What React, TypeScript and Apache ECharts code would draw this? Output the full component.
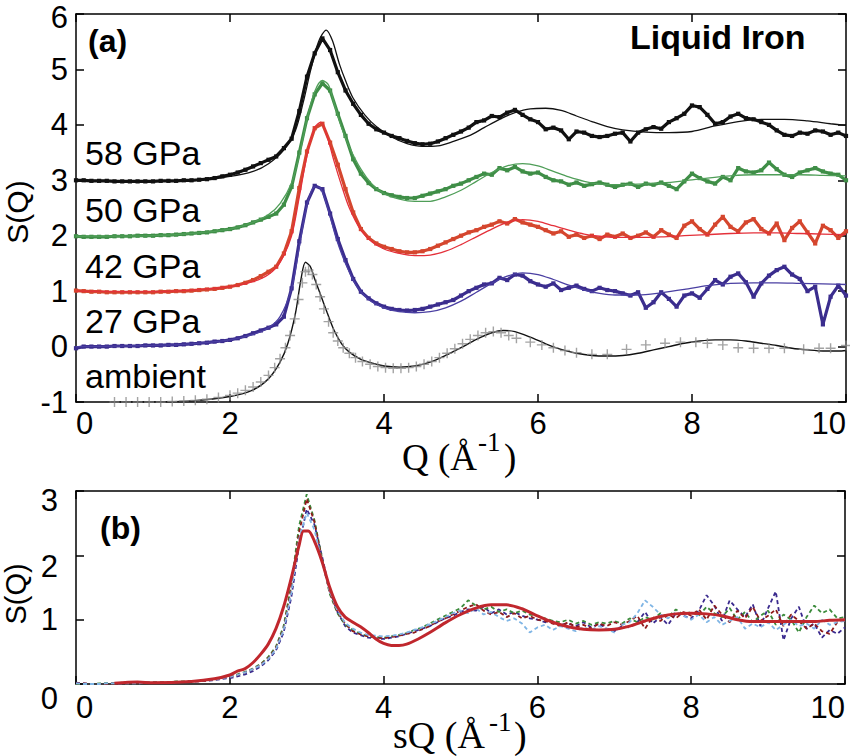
import React, { useEffect, useRef } from "react";
import * as echarts from "echarts";

// Q grid (Å^-1) used by the measured data sets
const Q_GRID: number[] = Array.from({ length: 101 }, (_, i) => i / 10);

// ---- Panel (a): measured S(Q) with vertical offsets (values as plotted) ----
const DATA_58 = [
  3.0, 3.0, 2.99, 2.99, 2.99, 2.98, 2.98, 2.98, 2.98, 2.98,
  2.98, 2.99, 2.99, 2.99, 3.0, 3.0, 3.01, 3.02, 3.04, 3.07,
  3.1, 3.14, 3.19, 3.25, 3.31, 3.37, 3.43, 3.58, 3.75, 4.25,
  4.87, 5.29, 5.56, 5.35, 4.95, 4.62, 4.38, 4.18, 4.02, 3.92,
  3.86, 3.8, 3.76, 3.71, 3.67, 3.65, 3.66, 3.7, 3.76, 3.82,
  3.88, 3.95, 4.05, 4.08, 4.16, 4.14, 4.22, 4.27, 4.18, 4.1,
  4.05, 3.92, 3.95, 3.9, 3.74, 3.88, 3.86, 3.8, 3.78, 3.8,
  3.84, 3.86, 3.7, 3.86, 3.92, 3.96, 3.93, 4.05, 4.12, 4.2,
  4.35, 4.32, 4.18, 4.02, 4.05, 4.15, 4.2, 4.12, 4.1, 4.05,
  4.0, 3.9, 3.82, 3.8, 3.86, 3.84, 3.9, 3.88, 3.82, 3.86,
  3.8,
];
const DATA_50 = [
  1.99, 1.98, 1.98, 1.98, 1.98, 1.99, 1.99, 1.99, 2.0, 2.0,
  2.0, 2.01, 2.01, 2.02, 2.03, 2.04, 2.05, 2.06, 2.08, 2.1,
  2.12, 2.15, 2.19, 2.24, 2.29, 2.34, 2.4, 2.56, 2.88, 3.5,
  4.12, 4.55, 4.75, 4.62, 4.2, 3.8, 3.38, 3.12, 2.95, 2.84,
  2.77, 2.73, 2.7, 2.68, 2.68, 2.72, 2.76, 2.8, 2.84, 2.9,
  2.94, 3.0, 3.06, 3.12, 3.1, 3.22, 3.18, 3.24, 3.16, 3.12,
  3.14, 3.06, 3.0, 2.98, 2.92, 2.96, 2.9, 2.93, 2.96, 2.92,
  2.88, 2.92, 2.94, 2.88, 2.94, 2.92, 2.96, 2.9, 2.84, 2.98,
  3.12, 3.04, 2.98, 2.94, 3.06, 3.0, 3.22, 3.16, 3.14, 3.18,
  3.32, 3.2, 3.1, 3.06, 3.14, 3.18, 3.22, 3.16, 3.12, 3.1,
  3.0,
];
const DATA_42 = [
  1.01, 1.0, 0.99, 0.99, 0.98, 0.98, 0.98, 0.98, 0.98, 0.98,
  0.98, 0.99, 0.99, 1.0, 1.0, 1.01, 1.02, 1.03, 1.04, 1.06,
  1.08, 1.11, 1.15, 1.2, 1.27, 1.35, 1.44, 1.68, 2.08, 2.86,
  3.52, 3.94, 4.02, 3.68, 3.28, 2.84, 2.42, 2.12, 1.96, 1.86,
  1.8, 1.76, 1.72, 1.7, 1.7, 1.72, 1.76, 1.82, 1.88, 1.94,
  2.0, 2.06, 2.1, 2.16, 2.2, 2.26, 2.22, 2.3, 2.24, 2.2,
  2.16, 2.1, 2.04, 2.08, 1.98, 2.02, 1.96, 2.0, 1.94, 2.02,
  1.98, 2.04, 1.96, 2.0, 2.06, 1.98, 2.1, 2.02, 1.96, 2.18,
  2.26, 2.12, 2.02, 2.2, 2.34, 2.16, 2.08, 2.24, 2.3, 2.12,
  2.04, 2.22, 1.92, 2.14, 2.26, 2.06, 1.86, 2.18, 2.1, 1.96,
  2.08,
];
const DATA_27 = [
  -0.03, 0.0, 0.0, 0.0, 0.0, 0.01, 0.01, 0.01, 0.01, 0.02,
  0.02, 0.02, 0.03, 0.03, 0.04, 0.05, 0.06, 0.07, 0.09, 0.1,
  0.12, 0.15, 0.19, 0.24, 0.29, 0.34, 0.4, 0.54, 1.05, 1.9,
  2.6, 2.9, 2.84, 2.4, 1.94, 1.56, 1.22, 0.99, 0.87, 0.78,
  0.72, 0.68, 0.66, 0.65, 0.66, 0.68, 0.72, 0.76, 0.8, 0.84,
  0.92, 1.0, 1.06, 1.12, 1.14, 1.24, 1.2, 1.3, 1.28, 1.18,
  1.12, 1.08, 1.14, 1.02, 1.06, 1.1, 1.04, 1.0, 1.06, 1.02,
  1.0, 0.96, 0.92, 0.98, 0.7, 0.8, 0.98, 0.86, 0.72, 0.92,
  0.96, 0.88, 1.04, 1.2, 1.12, 1.26, 1.32, 1.16, 0.9, 1.14,
  1.28, 1.38, 1.44, 1.3, 1.22, 1.0, 1.08, 0.4, 0.9, 1.1,
  0.92,
];
// ambient measurement (crosses), [Q, S(Q)-1]
const AMBIENT_PTS: [number, number][] = [
  [0.5, -1.0], [0.65, -1.0], [0.8, -1.0], [0.95, -1.0], [1.1, -1.0], [1.25, -0.99],
  [1.4, -0.98], [1.55, -0.97], [1.7, -0.95], [1.85, -0.92], [2.0, -0.88], [2.1, -0.84],
  [2.2, -0.79], [2.3, -0.73], [2.4, -0.64], [2.5, -0.52], [2.58, -0.38], [2.65, -0.22],
  [2.72, -0.02], [2.78, 0.2], [2.84, 0.5], [2.89, 0.85], [2.94, 1.15], [2.98, 1.35],
  [3.02, 1.38], [3.07, 1.3], [3.12, 1.12], [3.17, 0.9], [3.22, 0.68], [3.28, 0.45],
  [3.34, 0.25], [3.4, 0.1], [3.47, -0.02], [3.55, -0.12], [3.63, -0.2], [3.72, -0.27],
  [3.82, -0.32], [3.92, -0.36], [4.02, -0.38], [4.12, -0.39], [4.22, -0.39], [4.32, -0.38],
  [4.42, -0.36], [4.52, -0.32], [4.62, -0.27], [4.72, -0.2], [4.82, -0.12], [4.92, -0.04],
  [5.02, 0.05], [5.12, 0.13], [5.22, 0.2], [5.32, 0.25], [5.42, 0.27], [5.52, 0.25],
  [5.62, 0.2], [5.72, 0.15], [5.9, 0.08], [6.05, 0.03], [6.2, -0.02], [6.35, -0.07],
  [6.5, -0.11], [6.7, -0.14], [6.9, -0.14], [7.15, -0.05], [7.4, 0.03], [7.65, 0.06],
  [7.85, 0.08], [8.05, 0.08], [8.2, 0.06], [8.4, 0.03], [8.6, -0.02], [8.8, -0.03],
  [9.0, -0.03], [9.2, -0.03], [9.45, -0.05], [9.65, -0.03], [9.8, -0.03], [10.0, 0.02],
];

// ---- Panel (a): model curves ----
const FIT_58: [number, number][] = [
  [0, 3.0], [1, 2.99], [1.5, 3.0], [2, 3.07], [2.3, 3.16], [2.5, 3.3], [2.7, 3.55],
  [2.85, 3.9], [2.95, 4.4], [3.05, 5.0], [3.15, 5.5], [3.25, 5.71], [3.33, 5.52],
  [3.42, 5.1], [3.5, 4.8], [3.6, 4.48], [3.75, 4.18], [3.9, 3.97], [4.1, 3.78],
  [4.3, 3.66], [4.5, 3.61], [4.7, 3.62], [4.9, 3.7], [5.1, 3.8], [5.3, 3.95],
  [5.5, 4.1], [5.7, 4.22], [5.9, 4.29], [6.1, 4.3], [6.3, 4.26], [6.5, 4.16],
  [6.7, 4.06], [6.9, 3.97], [7.1, 3.91], [7.4, 3.87], [7.7, 3.86], [8.0, 3.88],
  [8.3, 3.98], [8.6, 4.06], [8.9, 4.1], [9.2, 4.1], [9.5, 4.07], [9.8, 4.02], [10, 3.99],
];
const FIT_50: [number, number][] = [
  [0, 1.99], [1, 2.0], [1.5, 2.04], [2, 2.12], [2.3, 2.24], [2.5, 2.38], [2.65, 2.58],
  [2.8, 2.95], [2.9, 3.45], [3.0, 4.1], [3.1, 4.6], [3.2, 4.8], [3.28, 4.72],
  [3.36, 4.35], [3.45, 3.95], [3.55, 3.6], [3.7, 3.2], [3.85, 2.92], [4.0, 2.76],
  [4.2, 2.66], [4.4, 2.62], [4.6, 2.62], [4.8, 2.7], [5.0, 2.82], [5.2, 2.98],
  [5.4, 3.14], [5.6, 3.26], [5.8, 3.3], [6.0, 3.26], [6.2, 3.16], [6.4, 3.06],
  [6.6, 2.98], [6.8, 2.93], [7.0, 2.92], [7.3, 2.93], [7.6, 2.95], [7.9, 2.99],
  [8.2, 3.04], [8.5, 3.08], [8.8, 3.1], [9.1, 3.1], [9.4, 3.1], [9.7, 3.09], [10, 3.08],
];
const FIT_42: [number, number][] = [
  [0, 1.0], [1, 0.99], [1.5, 1.02], [2, 1.08], [2.3, 1.17], [2.5, 1.3], [2.65, 1.52],
  [2.8, 2.0], [2.9, 2.7], [3.0, 3.45], [3.1, 3.95], [3.18, 4.05], [3.26, 3.8],
  [3.35, 3.35], [3.45, 2.9], [3.55, 2.5], [3.7, 2.1], [3.85, 1.88], [4.0, 1.76],
  [4.2, 1.68], [4.4, 1.64], [4.6, 1.65], [4.8, 1.72], [5.0, 1.84], [5.2, 1.98],
  [5.4, 2.12], [5.6, 2.24], [5.8, 2.29], [6.0, 2.26], [6.2, 2.18], [6.4, 2.1],
  [6.6, 2.03], [6.8, 1.99], [7.0, 1.97], [7.3, 1.97], [7.6, 1.98], [7.9, 2.0],
  [8.2, 2.02], [8.5, 2.04], [8.8, 2.05], [9.1, 2.05], [9.4, 2.04], [9.7, 2.03], [10, 2.02],
];
const FIT_27: [number, number][] = [
  [0, 0.0], [1, 0.02], [1.5, 0.05], [2, 0.12], [2.3, 0.22], [2.5, 0.34], [2.65, 0.54],
  [2.8, 1.05], [2.9, 1.8], [3.0, 2.55], [3.1, 2.88], [3.18, 2.85], [3.28, 2.45],
  [3.38, 1.95], [3.5, 1.5], [3.65, 1.08], [3.8, 0.85], [4.0, 0.7], [4.2, 0.63],
  [4.4, 0.61], [4.6, 0.63], [4.8, 0.7], [5.0, 0.82], [5.2, 0.98], [5.4, 1.14],
  [5.6, 1.27], [5.8, 1.33], [6.0, 1.3], [6.2, 1.21], [6.4, 1.11], [6.6, 1.02],
  [6.8, 0.96], [7.0, 0.93], [7.3, 0.93], [7.6, 0.97], [7.9, 1.03], [8.2, 1.1],
  [8.5, 1.14], [8.8, 1.15], [9.1, 1.15], [9.4, 1.14], [9.7, 1.13], [10, 1.12],
];
const FIT_AMBIENT: [number, number][] = [
  [0.45, -1.0], [1, -1.0], [1.5, -0.98], [2, -0.9], [2.3, -0.78], [2.5, -0.58],
  [2.65, -0.28], [2.75, 0.05], [2.85, 0.6], [2.92, 1.2], [2.98, 1.52], [3.04, 1.45],
  [3.1, 1.22], [3.18, 0.92], [3.26, 0.62], [3.35, 0.3], [3.45, 0.05], [3.55, -0.1],
  [3.7, -0.23], [3.85, -0.3], [4.0, -0.35], [4.2, -0.37], [4.4, -0.35], [4.6, -0.28],
  [4.8, -0.16], [5.0, -0.02], [5.2, 0.13], [5.4, 0.25], [5.55, 0.29], [5.7, 0.27],
  [5.9, 0.17], [6.1, 0.05], [6.3, -0.05], [6.5, -0.12], [6.7, -0.16], [6.9, -0.17],
  [7.1, -0.16], [7.3, -0.12], [7.5, -0.06], [7.7, 0.0], [7.9, 0.06], [8.1, 0.1],
  [8.3, 0.12], [8.5, 0.12], [8.7, 0.1], [8.9, 0.06], [9.1, 0.02], [9.3, -0.03],
  [9.5, -0.06], [9.7, -0.08], [9.9, -0.08], [10, -0.07],
];

// ---- Panel (b): scaled S(Q) ----
const B_27 = [
  0.02, 0.01, 0.0, 0.0, 0.01, 0.01, 0.01, 0.02, 0.01, 0.02,
  0.02, 0.02, 0.03, 0.03, 0.03, 0.04, 0.04, 0.05, 0.06, 0.08,
  0.09, 0.12, 0.15, 0.2, 0.27, 0.37, 0.52, 0.8, 1.35, 2.15,
  2.72, 2.48, 1.98, 1.45, 1.12, 0.9, 0.8, 0.76, 0.72, 0.71,
  0.7, 0.72, 0.74, 0.78, 0.82, 0.86, 0.9, 0.96, 1.02, 1.06,
  1.12, 1.16, 1.14, 1.2, 1.1, 1.16, 1.08, 1.12, 1.06, 1.02,
  1.0, 0.96, 0.98, 0.92, 0.94, 0.9, 0.96, 0.88, 0.94, 0.86,
  0.82, 0.9, 0.88, 0.96, 1.12, 0.94, 1.04, 0.92, 1.1, 1.06,
  1.02, 1.14, 1.38, 1.22, 0.98, 1.3, 1.16, 1.04, 1.24, 0.9,
  1.18, 1.44, 0.68, 1.02, 1.2, 0.86, 0.94, 0.72, 0.84, 0.78,
  0.88,
];
const B_50 = [
  0.0, 0.0, 0.0, 0.01, 0.01, 0.01, 0.02, 0.02, 0.02, 0.02,
  0.03, 0.03, 0.03, 0.04, 0.04, 0.05, 0.05, 0.06, 0.08, 0.1,
  0.12, 0.15, 0.19, 0.24, 0.31, 0.42, 0.58, 0.9, 1.55, 2.45,
  2.95, 2.55, 1.95, 1.4, 1.1, 0.92, 0.84, 0.78, 0.74, 0.73,
  0.72, 0.74, 0.76, 0.79, 0.84, 0.88, 0.94, 1.0, 1.06, 1.12,
  1.18, 1.3, 1.22, 1.16, 1.2, 1.12, 1.16, 1.1, 1.14, 1.08,
  1.06, 1.02, 0.98, 0.96, 1.0, 0.94, 0.98, 0.92, 0.96, 0.94,
  0.98, 0.94, 1.02, 0.96, 1.04, 1.0, 1.1, 1.04, 1.16, 1.08,
  1.12, 1.06, 1.2, 1.1, 1.04, 1.18, 1.0, 1.12, 0.96, 1.06,
  1.14, 0.92, 1.08, 1.0, 0.8, 1.04, 1.22, 1.1, 1.16, 1.02,
  1.04,
];
const B_42 = [
  0.01, 0.01, 0.0, 0.0, 0.0, 0.01, 0.01, 0.01, 0.02, 0.02,
  0.02, 0.02, 0.02, 0.03, 0.03, 0.04, 0.04, 0.05, 0.07, 0.09,
  0.11, 0.14, 0.18, 0.23, 0.3, 0.4, 0.56, 0.86, 1.48, 2.35,
  2.88, 2.52, 1.92, 1.42, 1.12, 0.94, 0.82, 0.77, 0.74, 0.72,
  0.71, 0.73, 0.75, 0.78, 0.8, 0.85, 0.9, 0.97, 1.02, 1.08,
  1.14, 1.2, 1.24, 1.14, 1.08, 1.12, 1.04, 1.1, 1.02, 1.06,
  1.0, 0.98, 0.94, 0.9, 0.96, 0.88, 0.92, 0.86, 0.94, 0.9,
  0.96, 0.92, 0.98, 1.06, 0.86, 1.04, 0.98, 1.08, 1.02, 1.12,
  1.06, 1.16, 1.0, 1.22, 1.08, 0.96, 1.14, 1.02, 1.2, 0.98,
  1.06, 1.16, 0.9, 1.08, 0.98, 0.86, 0.94, 0.82, 0.78, 0.96,
  1.0,
];
const B_AMB = [
  0.01, 0.0, 0.0, 0.0, 0.01, 0.01, 0.01, 0.01, 0.01, 0.02,
  0.02, 0.02, 0.02, 0.03, 0.03, 0.04, 0.05, 0.06, 0.07, 0.09,
  0.11, 0.14, 0.18, 0.23, 0.29, 0.39, 0.54, 0.84, 1.42, 2.25,
  2.66, 2.4, 1.9, 1.44, 1.14, 0.95, 0.86, 0.8, 0.76, 0.75,
  0.74, 0.75, 0.77, 0.8, 0.84, 0.88, 0.93, 0.98, 1.04, 1.1,
  1.14, 1.1, 1.18, 1.08, 1.12, 1.04, 0.98, 1.02, 0.94, 0.8,
  0.88, 0.92, 0.84, 0.9, 0.86, 0.82, 0.88, 0.84, 0.9, 0.86,
  0.8, 0.92, 0.96, 1.1, 1.3, 1.2, 1.08, 1.02, 1.12, 1.06,
  1.0, 1.08, 0.96, 1.04, 0.92, 0.98, 1.04, 0.86, 0.94, 0.88,
  0.96, 0.84, 0.92, 1.0, 0.9, 0.94, 0.86, 1.0, 0.92, 0.96,
  0.98,
];
const B_MODEL: [number, number][] = [
  [0.5, 0.01], [0.8, 0.03], [1.0, 0.02], [1.5, 0.04], [1.8, 0.08], [2.0, 0.14],
  [2.1, 0.2], [2.2, 0.24], [2.3, 0.33], [2.4, 0.46], [2.5, 0.62], [2.6, 0.86],
  [2.7, 1.2], [2.8, 1.65], [2.9, 2.15], [2.96, 2.38], [3.02, 2.38], [3.1, 2.22],
  [3.2, 1.9], [3.3, 1.5], [3.4, 1.2], [3.5, 1.04], [3.6, 0.96], [3.7, 0.89],
  [3.8, 0.8], [3.9, 0.7], [4.0, 0.63], [4.1, 0.6], [4.2, 0.6], [4.3, 0.62],
  [4.45, 0.7], [4.6, 0.8], [4.8, 0.95], [5.0, 1.08], [5.2, 1.18], [5.4, 1.23],
  [5.6, 1.23], [5.8, 1.17], [6.0, 1.06], [6.2, 0.96], [6.4, 0.89], [6.6, 0.85],
  [6.8, 0.84], [7.0, 0.85], [7.2, 0.9], [7.4, 0.98], [7.6, 1.05], [7.8, 1.09],
  [8.0, 1.1], [8.2, 1.09], [8.4, 1.06], [8.6, 1.0], [8.8, 0.97], [9.0, 0.97],
  [9.3, 0.97], [9.6, 0.97], [9.8, 0.99], [10, 1.0],
];

const TOP_Y_TICKS = { min: -1, max: 6, interval: 1 };
const BOT_Y_TICKS = { min: 0, max: 3, interval: 1 };
const X_TICKS = { min: 0, max: 10, interval: 2 };

const PRESSURE_LABELS = ["58 GPa", "50 GPa", "42 GPa", "27 GPa", "ambient"];

const SANS = "'Liberation Sans', Arial, Helvetica, sans-serif";
const SERIF = "'Liberation Serif', 'Times New Roman', serif";

const C_BLACK = "#111111";
const C_GREEN = "#3f8e47";
const C_GREEN_FIT = "#4f9e58";
const C_RED = "#d5462e";
const C_RED_FIT = "#e4303a";
const C_BLUE = "#3b2d8e";
const C_BLUE_FIT = "#4a3fa2";
const C_GRAY = "#8c8c8c";
const B_COLORS = ["#3a2a8e", "#3b8b3b", "#8e1b1b", "#7fb5e5"];
const C_MODEL = "#c0272d";

const PLUS = "path://M4.3,0H5.7V4.3H10V5.7H5.7V10H4.3V5.7H0V4.3H4.3Z";

const pairs = (ys: number[]) => ys.map((y, i) => [Q_GRID[i], y]);

function axisCommon(extra: any) {
  return {
    type: "value",
    axisLine: { show: true, onZero: false, lineStyle: { color: "#000", width: 1.5 } },
    axisTick: { show: true, inside: true, length: 8, lineStyle: { color: "#000", width: 1.5 } },
    splitLine: { show: false },
    ...extra,
  };
}

export default function App() {
  const ref = useRef<HTMLDivElement>(null);
  useEffect(() => {
    if (!ref.current) return;
    const chart = echarts.init(ref.current, undefined, { renderer: "svg" });

    const xLabel = {
      show: true,
      fontSize: 31,
      fontFamily: SANS,
      color: "#000",
      alignMinLabel: "left",
      alignMaxLabel: "right",
    };
    const tok = { fontSize: 31, fontFamily: SANS, color: "#000" };

    const dataSeries = (ys: number[], color: string) => ({
      type: "line",
      xAxisIndex: 0,
      yAxisIndex: 0,
      data: pairs(ys),
      showSymbol: true,
      symbol: "rect",
      symbolSize: 4.2,
      itemStyle: { color },
      lineStyle: { color, width: 3.2 },
      z: 2,
      silent: true,
    });
    const fitSeries = (pts: [number, number][], color: string) => ({
      type: "line",
      xAxisIndex: 0,
      yAxisIndex: 0,
      data: pts,
      showSymbol: false,
      smooth: 0.3,
      lineStyle: { color, width: 1.3 },
      z: 3,
      silent: true,
    });
    const bSeries = (ys: number[], color: string) => ({
      type: "line",
      xAxisIndex: 2,
      yAxisIndex: 2,
      data: pairs(ys),
      showSymbol: false,
      lineStyle: { color, width: 1.8, type: [4, 3] },
      z: 2,
      silent: true,
    });

    const labelYs = [153, 210, 266, 321, 376];

    chart.setOption({
      animation: false,
      backgroundColor: "#ffffff",
      grid: [
        { left: 76, top: 14, width: 770, height: 388 },
        { left: 76, top: 491, width: 769, height: 193 },
      ],
      xAxis: [
        axisCommon({ gridIndex: 0, position: "bottom", ...X_TICKS, axisLabel: { ...xLabel, margin: 6 } }),
        axisCommon({ gridIndex: 0, position: "top", ...X_TICKS, axisLabel: { show: false } }),
        axisCommon({ gridIndex: 1, position: "bottom", ...X_TICKS, axisLabel: { ...xLabel, margin: 8 } }),
        axisCommon({ gridIndex: 1, position: "top", ...X_TICKS, axisLabel: { show: false } }),
      ],
      yAxis: [
        axisCommon({
          gridIndex: 0,
          position: "left",
          ...TOP_Y_TICKS,
          axisLabel: {
            show: true,
            ...tok,
            margin: 8,
            formatter: (v: number) => (v === 6 ? `{top|${v}}` : `{n|${v}}`),
            rich: { top: { ...tok, padding: [6, 0, 0, 0] }, n: { ...tok } },
          },
        }),
        axisCommon({ gridIndex: 0, position: "right", ...TOP_Y_TICKS, axisLabel: { show: false } }),
        axisCommon({
          gridIndex: 1,
          position: "left",
          ...BOT_Y_TICKS,
          axisLabel: {
            show: true,
            ...tok,
            margin: 18,
            formatter: (v: number) => `{t${v}|${v}}`,
            rich: {
              t0: { ...tok, padding: [28, 0, 0, 0] },
              t1: { ...tok },
              t2: { ...tok, padding: [22, 0, 0, 0] },
              t3: { ...tok, padding: [18, 0, 0, 0] },
            },
          },
        }),
        axisCommon({ gridIndex: 1, position: "right", ...BOT_Y_TICKS, axisLabel: { show: false } }),
      ],
      series: [
        dataSeries(DATA_58, C_BLACK),
        dataSeries(DATA_50, C_GREEN),
        dataSeries(DATA_42, C_RED),
        dataSeries(DATA_27, C_BLUE),
        {
          type: "line",
          xAxisIndex: 0,
          yAxisIndex: 0,
          data: FIT_AMBIENT,
          showSymbol: false,
          smooth: 0.3,
          lineStyle: { color: C_BLACK, width: 1.4 },
          z: 2,
          silent: true,
        },
        {
          type: "scatter",
          xAxisIndex: 0,
          yAxisIndex: 0,
          data: AMBIENT_PTS,
          symbol: PLUS,
          symbolSize: 10,
          itemStyle: { color: C_GRAY },
          z: 3,
          silent: true,
        },
        fitSeries(FIT_58, C_BLACK),
        fitSeries(FIT_50, C_GREEN_FIT),
        fitSeries(FIT_42, C_RED_FIT),
        fitSeries(FIT_27, C_BLUE_FIT),
        bSeries(B_27, B_COLORS[0]),
        bSeries(B_50, B_COLORS[1]),
        bSeries(B_42, B_COLORS[2]),
        bSeries(B_AMB, B_COLORS[3]),
        {
          type: "line",
          xAxisIndex: 2,
          yAxisIndex: 2,
          data: B_MODEL,
          showSymbol: false,
          smooth: 0.3,
          lineStyle: { color: C_MODEL, width: 3 },
          z: 4,
          silent: true,
        },
      ],
      graphic: [
        {
          type: "text",
          x: 88,
          y: 41,
          style: { text: "(a)", fontSize: 32, fontWeight: "bold", fontFamily: SANS, fill: "#000", align: "left", verticalAlign: "middle" },
        },
        {
          type: "text",
          x: 630,
          y: 37,
          style: { text: "Liquid Iron", fontSize: 34, fontWeight: "bold", fontFamily: SANS, fill: "#000", align: "left", verticalAlign: "middle" },
        },
        ...PRESSURE_LABELS.map((t, i) => ({
          type: "text",
          x: 85,
          y: labelYs[i],
          style: { text: t, fontSize: 34, fontFamily: SANS, fill: "#000", align: "left", verticalAlign: "middle" },
        })),
        {
          type: "text",
          x: 17,
          y: 212,
          rotation: Math.PI / 2,
          style: { text: "S(Q)", fontSize: 30, fontFamily: SANS, fill: "#000", align: "center", verticalAlign: "middle" },
        },
        {
          type: "text",
          x: 402,
          y: 457,
          style: { text: "Q (Å", fontSize: 37, fontFamily: SERIF, fill: "#000", align: "left", verticalAlign: "middle" },
        },
        {
          type: "text",
          x: 478,
          y: 442,
          style: { text: "-1", fontSize: 27, fontFamily: SERIF, fill: "#000", align: "left", verticalAlign: "middle" },
        },
        {
          type: "text",
          x: 504,
          y: 457,
          style: { text: ")", fontSize: 37, fontFamily: SERIF, fill: "#000", align: "left", verticalAlign: "middle" },
        },
        {
          type: "text",
          x: 100,
          y: 528,
          style: { text: "(b)", fontSize: 32, fontWeight: "bold", fontFamily: SANS, fill: "#000", align: "left", verticalAlign: "middle" },
        },
        {
          type: "text",
          x: 16,
          y: 594,
          rotation: Math.PI / 2,
          style: { text: "S(Q)", fontSize: 29, fontFamily: SANS, fill: "#000", align: "center", verticalAlign: "middle" },
        },
        {
          type: "text",
          x: 393,
          y: 735,
          style: { text: "sQ (Å", fontSize: 38, fontFamily: SERIF, fill: "#000", align: "left", verticalAlign: "middle" },
        },
        {
          type: "text",
          x: 489,
          y: 722,
          style: { text: "-1", fontSize: 27, fontFamily: SERIF, fill: "#000", align: "left", verticalAlign: "middle" },
        },
        {
          type: "text",
          x: 514,
          y: 735,
          style: { text: ")", fontSize: 38, fontFamily: SERIF, fill: "#000", align: "left", verticalAlign: "middle" },
        },
      ],
    });
    return () => chart.dispose();
  }, []);

  return (
    <div
      ref={ref}
      style={{ position: "fixed", left: 0, top: 0, width: 850, height: 756, background: "#fff" }}
    />
  );
}
